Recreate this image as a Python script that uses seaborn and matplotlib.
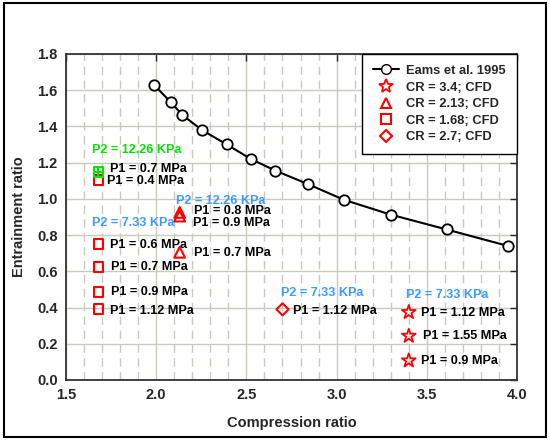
import numpy as np
import pandas as pd
import seaborn as sns
import matplotlib.pyplot as plt
from matplotlib.lines import Line2D
from matplotlib.patches import Rectangle
from matplotlib.ticker import MultipleLocator

sns.set_style("white")
plt.rcParams['font.family'] = ['Liberation Sans', 'DejaVu Sans']
plt.rcParams['font.weight'] = 'bold'

# Eams et al. 1995
eams_cr = [1.99, 2.08, 2.145, 2.255, 2.39, 2.525, 2.66, 2.84, 3.04, 3.30, 3.61, 3.95]
eams_er = [1.627, 1.535, 1.463, 1.379, 1.301, 1.220, 1.156, 1.082, 0.995, 0.913, 0.831, 0.740]

# CFD points
cr34_x = [3.40, 3.40, 3.40]
cr34_y = [0.374, 0.243, 0.107]
cr213_x = [2.13, 2.13, 2.13]
cr213_y = [0.925, 0.905, 0.705]
cr168_x = [1.68, 1.68, 1.68, 1.68, 1.68]
cr168_y = [1.105, 0.751, 0.624, 0.488, 0.390]
cr168_green_x = [1.68]
cr168_green_y = [1.15]
cr27_x = [2.70]
cr27_y = [0.390]

# text labels: (text, x, y, colour)
labels = [
    ("P2 = 12.26 KPa", 1.644, 1.270, '#00e600'),
    ("P1 = 0.7 MPa", 1.744, 1.163, 'black'),
    ("P1 = 0.4 MPa", 1.729, 1.097, 'black'),
    ("P2 = 12.26 KPa", 2.110, 0.990, '#3d9bff'),
    ("P1 = 0.8 MPa", 2.210, 0.931, 'black'),
    ("P1 = 0.9 MPa", 2.202, 0.869, 'black'),
    ("P2 = 7.33 KPa", 1.644, 0.869, '#3d9bff'),
    ("P1 = 0.6 MPa", 1.744, 0.745, 'black'),
    ("P1 = 0.7 MPa", 2.210, 0.700, 'black'),
    ("P1 = 0.7 MPa", 1.747, 0.624, 'black'),
    ("P1 = 0.9 MPa", 1.749, 0.484, 'black'),
    ("P1 = 1.12 MPa", 1.744, 0.383, 'black'),
    ("P2 = 7.33 KPa", 2.690, 0.479, '#3d9bff'),
    ("P1 = 1.12 MPa", 2.760, 0.383, 'black'),
    ("P2 = 7.33 KPa", 3.385, 0.471, '#3d9bff'),
    ("P1 = 1.12 MPa", 3.466, 0.368, 'black'),
    ("P1 = 1.55 MPa", 3.477, 0.243, 'black'),
    ("P1 = 0.9 MPa", 3.466, 0.107, 'black'),
]

fig = plt.figure(figsize=(5.5, 4.42), dpi=100)
ax = fig.add_axes([0.12, 0.1403, 0.82, 0.7376])

grid_col = '#c9c9bd'
ax.xaxis.set_major_locator(MultipleLocator(0.5))
ax.xaxis.set_minor_locator(MultipleLocator(0.1))
ax.yaxis.set_major_locator(MultipleLocator(0.2))
ax.grid(True, which='major', axis='both', color=grid_col, lw=1.0, ls='-')
ax.grid(True, which='minor', axis='x', color=grid_col, lw=1.0, ls=(0, (6, 4)))
ax.set_axisbelow(True)

sns.lineplot(x=eams_cr, y=eams_er, ax=ax, color='black', lw=1.5, sort=False,
             marker='o', markersize=7.5, markerfacecolor='white',
             markeredgecolor='black', markeredgewidth=1.3, zorder=3)

red = '#ff0000'
sns.scatterplot(x=cr34_x, y=cr34_y, ax=ax, marker='*', s=110,
                facecolor='none', edgecolor=red, linewidth=1.3, zorder=4)
sns.scatterplot(x=cr213_x, y=cr213_y, ax=ax, marker='^', s=60,
                facecolor='none', edgecolor=red, linewidth=1.5, zorder=4)
sns.scatterplot(x=cr168_x, y=cr168_y, ax=ax, marker='s', s=50,
                facecolor='none', edgecolor=red, linewidth=1.5, zorder=4)
sns.scatterplot(x=cr168_green_x, y=cr168_green_y, ax=ax, marker='s', s=50,
                facecolor='none', edgecolor='#00e600', linewidth=1.5, zorder=4)
sns.scatterplot(x=cr168_green_x, y=cr168_green_y, ax=ax, marker='+', s=50,
                color='#00e600', linewidth=1.5, zorder=4)
sns.scatterplot(x=cr27_x, y=cr27_y, ax=ax, marker='D', s=38,
                facecolor='none', edgecolor=red, linewidth=1.5, zorder=4)

for txt, x, y, c in labels:
    ax.text(x, y, txt, color=c, fontsize=9.1, fontweight='bold',
            ha='left', va='center', zorder=5)

ax.set_xlim(1.5, 4.0)
ax.set_ylim(0.0, 1.8)
ax.tick_params(axis='both', which='major', direction='in', length=5, width=1,
               top=True, right=True, labelsize=10.5, pad=6)
ax.tick_params(axis='both', which='minor', length=0)
for lab in ax.get_xticklabels() + ax.get_yticklabels():
    lab.set_fontweight('bold')
ax.xaxis.set_major_formatter(plt.FormatStrFormatter('%.1f'))
ax.yaxis.set_major_formatter(plt.FormatStrFormatter('%.1f'))
for sp in ax.spines.values():
    sp.set_color('#333333')
    sp.set_linewidth(1.3)

ax.set_xlabel("Compression ratio", fontsize=10.5, fontweight='bold', labelpad=10)
ax.set_ylabel("Entrainment ratio", fontsize=10.5, fontweight='bold', labelpad=8)

handles = [
    Line2D([], [], color='black', lw=1.5, marker='o', markersize=7,
           markerfacecolor='white', markeredgecolor='black'),
    Line2D([], [], ls='none', marker='*', markersize=10, markerfacecolor='none',
           markeredgecolor=red, markeredgewidth=1.3),
    Line2D([], [], ls='none', marker='^', markersize=7, markerfacecolor='none',
           markeredgecolor=red, markeredgewidth=1.5),
    Line2D([], [], ls='none', marker='s', markersize=6.5, markerfacecolor='none',
           markeredgecolor=red, markeredgewidth=1.5),
    Line2D([], [], ls='none', marker='D', markersize=6, markerfacecolor='none',
           markeredgecolor=red, markeredgewidth=1.5),
]
names = ["Eams et al. 1995", "CR = 3.4; CFD", "CR = 2.13; CFD",
         "CR = 1.68; CFD", "CR = 2.7; CFD"]
leg = ax.legend(handles, names, loc='upper right', borderaxespad=0,
                fancybox=False, framealpha=1, edgecolor='black',
                prop={'size': 9.3, 'weight': 'bold'}, handlelength=2.0,
                handletextpad=0.6, labelspacing=0.35, borderpad=0.85)
leg.get_frame().set_linewidth(1.0)

fig.patches.append(Rectangle((0.0073, 0.0113), 0.9854, 0.9819,
                             transform=fig.transFigure, fill=False,
                             edgecolor='black', lw=1.5))

fig.savefig('out.png', dpi=100)
